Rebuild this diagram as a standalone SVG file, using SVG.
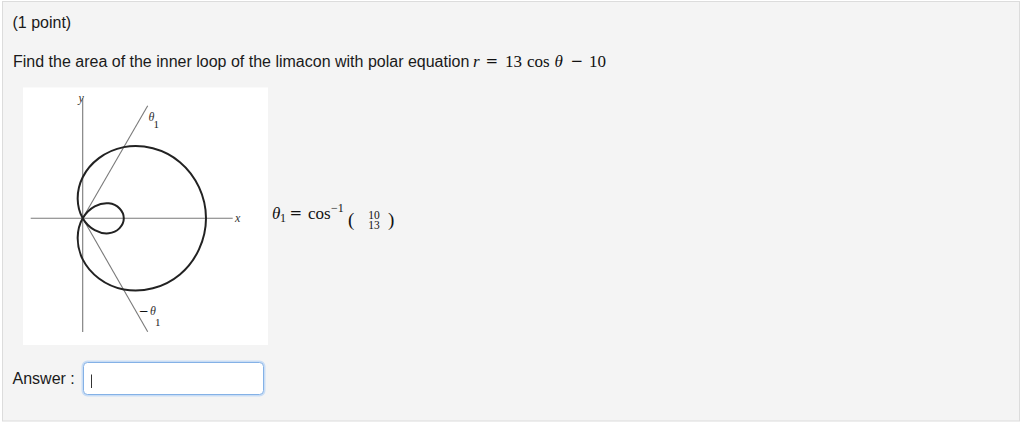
<svg xmlns="http://www.w3.org/2000/svg" width="1024" height="426" viewBox="0 0 1024 426">
  <style>
    .ui { font-family: "Liberation Sans", Arial, sans-serif; font-size: 16px; fill: #1a1a1a; }
    .m { font-family: "Liberation Serif", "Times New Roman", serif; fill: #111; }
    .mi { font-family: "Liberation Serif", "Times New Roman", serif; font-style: italic; fill: #111; }
    .op { font-family: "DejaVu Serif", serif; fill: #111; }
    .axis { stroke: #7a7a7a; stroke-width: 1.1; fill: none; }
    .curve { stroke: #222; stroke-width: 2; fill: none; }
    .lbl { font-family: "Liberation Serif", "Times New Roman", serif; font-style: italic; font-size: 12px; fill: #333; }
    .lbln { font-family: "Liberation Serif", "Times New Roman", serif; font-size: 11px; fill: #222; }
  </style>
  <rect width="1024" height="426" fill="#ffffff"/>
  <rect id="panel" x="2.5" y="1.5" width="1017" height="419.5" fill="#f4f4f4" stroke="#dcdcdc" stroke-width="1"/>

  <g id="question">
    <text class="ui" x="12.5" y="28">(1 point)</text>
    <text class="ui" x="13" y="66.5">Find the area of the inner loop of the limacon with polar equation</text>
    <text class="mi" font-size="17" x="473" y="66.5">r</text>
    <text class="op" font-size="15" x="485.5" y="66">=</text>
    <text class="m" font-size="17" x="505" y="66.5">13</text>
    <text class="m" font-size="17" x="527" y="66.5">cos</text>
    <text class="mi" font-size="17" x="554.5" y="66.5">θ</text>
    <text class="op" font-size="15" x="570.5" y="66">−</text>
    <text class="m" font-size="17" x="589" y="66.5">10</text>
  </g>

  <g id="graph">
    <rect x="23" y="87.5" width="245" height="257.5" fill="#ffffff"/>
    <g id="axes">
      <line class="axis" x1="82.7" y1="98" x2="82.7" y2="332"/>
      <line class="axis" x1="30.7" y1="218.3" x2="232.7" y2="218.3"/>
      <line class="axis" x1="82.7" y1="218.3" x2="147.7" y2="105.7"/>
      <line class="axis" x1="82.7" y1="218.3" x2="147.7" y2="331.7"/>
    </g>
    <path id="limacon" class="curve" d="M206.0,218.3 C206.0,196.78 195.95,175.55 179.94,162.16 C163.93,148.77 142.44,143.52 123.8,147.11 C105.16,150.70 89.87,162.85 82.7,177.2 C75.53,191.55 76.49,207.54 82.7,218.3 C88.91,229.06 99.92,234.30 108.76,233.34 C117.60,232.38 123.8,225.47 123.8,218.3 C123.8,211.13 117.60,204.22 108.76,203.26 C99.92,202.30 88.91,207.54 82.7,218.3 C76.49,229.06 75.53,245.05 82.7,259.4 C89.87,273.75 105.16,285.90 123.8,289.49 C142.44,293.08 163.93,287.83 179.94,274.44 C195.95,261.05 206.0,239.82 206.0,218.3 Z"/>
    <text class="lbl" x="78.5" y="101.5">y</text>
    <text class="lbl" x="235" y="222">x</text>
    <text class="lbl" x="148.5" y="120.5">θ</text>
    <text class="lbln" x="153.5" y="127.5">1</text>
    <text class="op" font-size="12" x="138.5" y="315" fill="#333">−</text>
    <text class="lbl" x="150" y="315">θ</text>
    <text class="lbln" x="155" y="326">1</text>
  </g>

  <g id="theta-formula">
    <text class="mi" font-size="17" x="272" y="218.5">θ</text>
    <text class="m" font-size="12" x="280" y="222">1</text>
    <text class="op" font-size="15" x="289.5" y="218">=</text>
    <text class="m" font-size="17" x="308" y="218.5">cos</text>
    <text class="m" font-size="12" x="331" y="212">−1</text>
    <text class="m" font-size="19" x="348" y="225.5">(</text>
    <text class="m" font-size="11.5" x="374" y="218.5" text-anchor="middle">10</text>
    <text class="m" font-size="11.5" x="374" y="229" text-anchor="middle">13</text>
    <text class="m" font-size="19" x="388" y="225.5">)</text>
  </g>

  <g id="answer">
    <text class="ui" x="12.5" y="383.5">Answer :</text>
    <rect x="82.5" y="361.5" width="182" height="34" rx="5" fill="none" stroke="#c9ddf5" stroke-width="2"/>
    <rect x="83.5" y="362.5" width="180" height="32" rx="4" fill="#ffffff" stroke="#84b1e6" stroke-width="1"/>
    <line x1="91.5" y1="374.5" x2="91.5" y2="388" stroke="#333" stroke-width="1"/>
  </g>
</svg>
